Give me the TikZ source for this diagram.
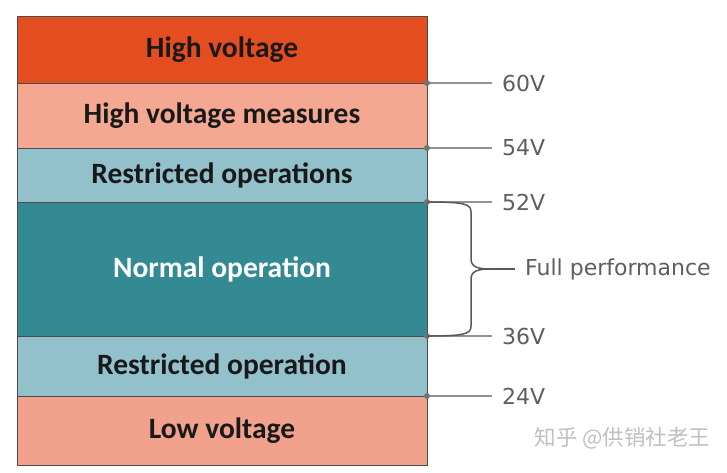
\documentclass[tikz,border=0pt]{standalone}
\usepackage{fontspec}
\setmainfont{Carlito}
\newfontfamily\lblfont{DejaVu Sans}
\newfontfamily\cjkfont{Noto Sans CJK SC}
\usetikzlibrary{positioning, calc}
\definecolor{hvred}{HTML}{E44D20}
\definecolor{hvsalmon}{HTML}{F4A791}
\definecolor{restr}{HTML}{93C1CB}
\definecolor{normal}{HTML}{338A93}
\definecolor{lvsalmon}{HTML}{F2A28C}
\definecolor{lblgray}{HTML}{5E5E5E}

\begin{document}
\begin{tikzpicture}[
    x=1pt, y=-1pt,
    node distance=0pt,
    band/.style={draw=black!70, line width=0.9pt, minimum width=410pt,
                 outer sep=0pt, inner sep=0pt, text=black!90,
                 font=\fontsize{29.5}{33}\selectfont\bfseries},
    volt/.style={font=\lblfont\fontsize{22}{26}\selectfont, text=lblgray,
                 inner xsep=10pt, inner ysep=0pt},
    tick/.style={draw=gray!85, line width=1.1pt},
    brace/.style={draw=black!65, line width=1.5pt},
]
\useasboundingbox (0,0) rectangle (727,472);

% voltage bands, top to bottom
\node[band, fill=hvred, minimum height=67pt, anchor=north west] (hv) at (17,16) {High voltage};
\node[band, fill=hvsalmon, minimum height=65pt, below=of hv] (hvm) {High voltage measures};
\node[band, fill=restr, minimum height=54pt, below=of hvm] (ro) {Restricted operations};
\node[band, fill=normal, text=white, minimum height=134pt, below=of ro] (no) {Normal operation};
\node[band, fill=restr, minimum height=60pt, below=of no] (rop) {Restricted operation};
\node[band, fill=lvsalmon, minimum height=69pt, below=of rop] (lv) {Low voltage};

% thresholds
\foreach \b/\v in {hv/60V, hvm/54V, ro/52V, no/36V, rop/24V} {
    \node[volt, right=65pt of \b.south east] (l\b) {\v};
    \draw[tick] (\b.south east) -- (l\b.west);
    \fill[gray!90!black] (\b.south east) circle (3pt);
}

% brace for the normal range
\coordinate (tip) at ($(no.east)+(63,0)$);
\draw[brace] (no.north east) .. controls +(38,0) and +(0,-8) .. ($(no.north east)+(44,10)$)
    -- ($(tip)+(-19,-10)$) .. controls +(0,8) and +(-12,0) .. (tip)
    .. controls +(-12,0) and +(0,-8) .. ($(tip)+(-19,10)$)
    -- ($(no.south east)+(44,-10)$) .. controls +(0,8) and +(38,0) .. (no.south east);
\node[volt, right=25pt of tip] (fp) {Full performance};
\draw[brace] (tip) -- (fp.west);

\node[font=\cjkfont\fontsize{21.5}{25}\selectfont, text=black!25, anchor=west] (wm) at (531,438) {知乎 @供销社老王};

\end{tikzpicture}
\end{document}
